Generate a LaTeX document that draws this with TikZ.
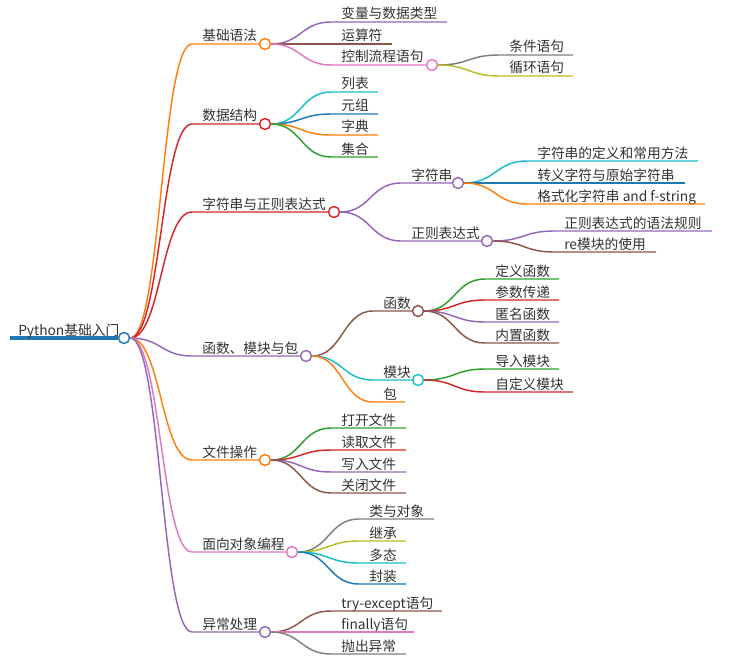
\documentclass[tikz,border=0pt]{standalone}
\usepackage{fontspec}
\setmainfont{Noto Sans CJK SC}
\usetikzlibrary{calc}
\definecolor{cOrange}{HTML}{FF7F0E}
\definecolor{cRed}{HTML}{D62728}
\definecolor{cPurple}{HTML}{9467BD}
\definecolor{cPink}{HTML}{E377C2}
\definecolor{cBrown}{HTML}{8C564B}
\definecolor{cGray}{HTML}{7F7F7F}
\definecolor{cOlive}{HTML}{BCBD22}
\definecolor{cCyan}{HTML}{17BECF}
\definecolor{cBlue}{HTML}{1F77B4}
\definecolor{cGreen}{HTML}{2CA02C}
\definecolor{txt}{HTML}{333333}
\tikzset{
  lbl/.style={font=\fontsize{10.3}{12}\selectfont, text=txt, inner sep=0pt, anchor=base west},
  edge/.style={line width=1.1pt},
  hub/.style={circle, draw, fill=white, line width=1.1pt, minimum size=8.2pt, inner sep=0pt},
}
\newcommand\mmleaf[7]{%
  \node[lbl] (#1) at (#3,{#4-3}) {#7};
  \coordinate (#1-s) at ({#3-10},#4);
  \coordinate (#1-e) at (#5,#4);
  \coordinate (#1-m) at ($(#2.east)!.5!(#1-s)$);
  \draw[edge,#6] (#2.east) .. controls (#1-m |- #2.east) and (#1-m |- #1-s) .. (#1-s) -- (#1-e);
}
\newcommand\mmmid[7]{%
  \node[lbl] (#1-t) at (#3,{#4-3}) {#7};
  \node[hub,draw=#6] (#1) at (#5,#4) {};
  \coordinate (#1-s) at ({#3-10},#4);
  \coordinate (#1-m) at ($(#2.east)!.5!(#1-s)$);
  \draw[edge,#6] (#2.east) .. controls (#1-m |- #2.east) and (#1-m |- #1-s) .. (#1-s) -- (#1.west);
}
\begin{document}
\begin{tikzpicture}[x=0.75pt,y=-0.75pt]
\useasboundingbox[fill=white] (0,0) rectangle (734,663);
% root
\coordinate (rootstart) at (10,338);
\node[hub,draw=cBlue] (root) at (124,338) {};
\draw[cBlue,line width=3pt] (rootstart) -- (root.west);
\node[lbl] (root-t) at (18,335) {Python基础入门};
% level 1
\mmmid{jc}{root}{202}{44}{265}{cOrange}{基础语法}
\mmmid{sj}{root}{202}{124}{265}{cRed}{数据结构}
\mmmid{zf}{root}{202}{212}{334}{cRed}{字符串与正则表达式}
\mmmid{hs}{root}{202}{356}{306}{cPurple}{函数、模块与包}
\mmmid{wj}{root}{202}{460}{265}{cOrange}{文件操作}
\mmmid{mx}{root}{202}{552}{292}{cPink}{面向对象编程}
\mmmid{yc}{root}{202}{632}{265}{cPurple}{异常处理}
% 基础语法
\mmleaf{bl}{jc}{341}{22}{447}{cPurple}{变量与数据类型}
\mmleaf{ys}{jc}{341}{44}{392}{cBrown}{运算符}
\mmmid{kz}{jc}{341}{65}{432}{cPink}{控制流程语句}
\mmleaf{tj}{kz}{509}{55}{573}{cGray}{条件语句}
\mmleaf{xh}{kz}{509}{76}{573}{cOlive}{循环语句}
% 数据结构
\mmleaf{lb}{sj}{341}{92}{378}{cCyan}{列表}
\mmleaf{yz}{sj}{341}{114}{378}{cBlue}{元组}
\mmleaf{zd}{sj}{341}{135}{378}{cOrange}{字典}
\mmleaf{jh}{sj}{341}{157}{378}{cGreen}{集合}
% 字符串与正则表达式
\mmmid{zfc}{zf}{411}{183}{458}{cPurple}{字符串}
\mmleaf{zf1}{zfc}{537}{161}{698}{cCyan}{字符串的定义和常用方法}
\mmleaf{zf2}{zfc}{537}{183}{685}{cBlue}{转义字符与原始字符串}
\mmleaf{zf3}{zfc}{537}{204}{705}{cOrange}{格式化字符串 and f-string}
\mmmid{zz}{zf}{411}{241}{487}{cPurple}{正则表达式}
\mmleaf{zz1}{zz}{564}{231}{712}{cPurple}{正则表达式的语法规则}
\mmleaf{zz2}{zz}{564}{252}{656}{cBrown}{re模块的使用}
% 函数、模块与包
\mmmid{fn}{hs}{383}{311}{418}{cBrown}{函数}
\mmleaf{fn1}{fn}{495}{279}{559}{cGreen}{定义函数}
\mmleaf{fn2}{fn}{495}{300}{559}{cRed}{参数传递}
\mmleaf{fn3}{fn}{495}{322}{559}{cPurple}{匿名函数}
\mmleaf{fn4}{fn}{495}{343}{559}{cBrown}{内置函数}
\mmmid{mk}{hs}{383}{380}{418}{cCyan}{模块}
\mmleaf{mk1}{mk}{495}{369}{559}{cGreen}{导入模块}
\mmleaf{mk2}{mk}{495}{392}{573}{cRed}{自定义模块}
\mmleaf{bao}{hs}{383}{402}{405}{cOrange}{包}
% 文件操作
\mmleaf{wj1}{wj}{341}{428}{406}{cGreen}{打开文件}
\mmleaf{wj2}{wj}{341}{450}{406}{cRed}{读取文件}
\mmleaf{wj3}{wj}{341}{472}{406}{cPurple}{写入文件}
\mmleaf{wj4}{wj}{341}{493}{406}{cBrown}{关闭文件}
% 面向对象编程
\mmleaf{mx1}{mx}{369}{519}{434}{cGray}{类与对象}
\mmleaf{mx2}{mx}{369}{541}{406}{cOlive}{继承}
\mmleaf{mx3}{mx}{369}{563}{406}{cCyan}{多态}
\mmleaf{mx4}{mx}{369}{584}{406}{cBlue}{封装}
% 异常处理
\mmleaf{yc1}{yc}{341}{611}{442}{cBrown}{try-except语句}
\mmleaf{yc2}{yc}{341}{632}{414}{cPink}{finally语句}
\mmleaf{yc3}{yc}{341}{654}{406}{cGray}{抛出异常}
\end{tikzpicture}
\end{document}
